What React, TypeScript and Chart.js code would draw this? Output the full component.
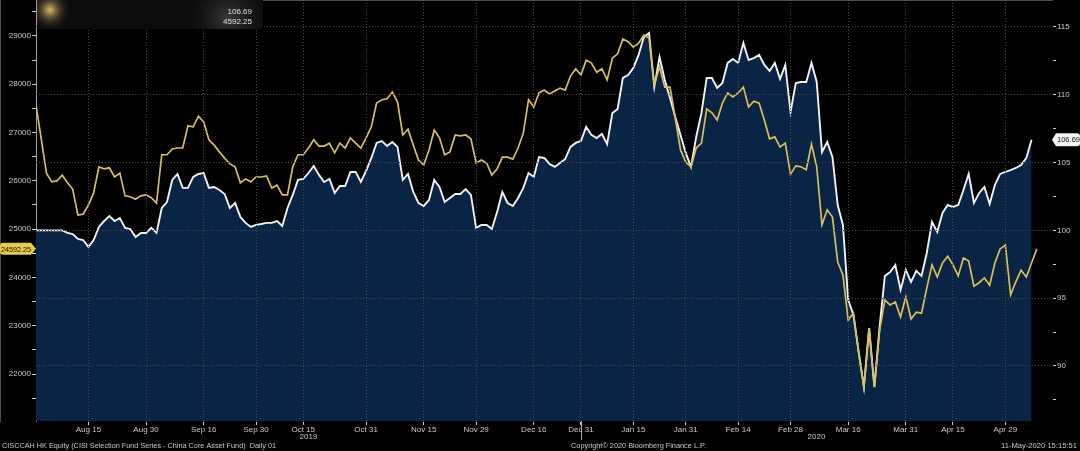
import React, { useEffect, useRef } from 'react';
import { Chart, registerables } from 'chart.js';

Chart.register(...registerables);

// Fund NAV (right axis), one value per trading day from 1 Aug 2019 to 8 May 2020
const fundNav = [
  100.0, 100.0, 100.0, 100.0, 100.0, 100.0,
  99.81, 99.73, 99.37, 99.29, 98.78, 99.29, 100.25, 100.69, 101.06, 100.69,
  100.91, 100.18, 100.1, 99.51, 99.81, 99.81, 100.18, 99.81, 101.65, 102.09,
  103.72, 104.16, 103.13, 103.13, 103.94, 104.16, 104.23, 103.13, 103.2, 102.98,
  102.68, 101.65, 102.02, 100.99, 100.55, 100.25, 100.4, 100.47, 100.55, 100.55,
  100.69, 100.32, 101.65, 102.61, 103.72, 103.79, 104.23, 104.75, 104.09, 103.57,
  103.79, 102.76, 103.27, 103.27, 104.31, 104.31, 103.57, 104.38, 105.34, 106.45,
  106.59, 106.22, 106.52, 106.15, 103.72, 104.16, 102.83, 102.02, 101.8, 102.24,
  103.72, 103.2, 102.09, 102.39, 102.68, 102.68, 103.05, 102.61, 100.18, 100.4,
  100.4, 100.1, 101.36, 102.83, 102.02, 101.8, 102.39, 103.13, 104.23, 103.94,
  105.41, 105.34, 104.9, 104.68, 104.97, 105.27, 106.15, 106.45, 106.59, 107.63,
  107.04, 106.81, 107.11, 106.37, 108.66, 108.95, 111.24, 111.46, 111.98, 112.94,
  114.26, 114.56, 110.58, 112.79, 111.09, 109.76, 108.36, 107.04, 105.71, 104.68,
  106.89, 108.66, 111.24, 111.24, 110.5, 110.87, 112.35, 112.64, 112.35, 113.82,
  112.57, 112.71, 112.94, 112.2, 111.76, 112.35, 111.17, 112.2, 108.73, 110.87,
  110.94, 110.94, 112.35, 110.94, 105.78, 106.52, 105.41, 101.87, 100.4, 94.87,
  93.76, 91.03, 88.45, 92.8, 88.45, 92.88, 96.64, 96.93, 97.45, 95.61,
  97.08, 96.19, 97.01, 96.64, 98.33, 100.62, 99.88, 101.28, 101.87, 101.73,
  101.87, 102.98, 104.16, 102.02, 102.76, 103.2, 101.95, 103.35, 104.16, 104.31,
  104.45, 104.6, 104.82, 105.34, 106.69,
];

// Benchmark index (left axis), same days plus the intraday 11 May value
const indexLevel = [
  27570, 26870, 26160, 25980, 26000, 26120, 25960, 25830, 25290, 25310,
  25500, 25750, 26290, 26250, 26270, 26080, 26160, 25690, 25670, 25620,
  25690, 25710, 25650, 25540, 26540, 26540, 26660, 26680, 26680, 27140,
  27120, 27340, 27220, 26850, 26740, 26600, 26470, 26350, 26290, 25960,
  26040, 25980, 26080, 26080, 26100, 25850, 25910, 25710, 25710, 26290,
  26540, 26540, 26680, 26850, 26720, 26720, 26780, 26580, 26780, 26680,
  26890, 26780, 26680, 26890, 27120, 27610, 27680, 27700, 27840, 27630,
  26950, 27070, 26740, 26430, 26330, 26640, 27050, 26890, 26540, 26600,
  26950, 26930, 26950, 26870, 26370, 26430, 26370, 26120, 26250, 26490,
  26490, 26450, 26680, 26990, 27680, 27530, 27820, 27880, 27800, 27860,
  27920, 27880, 28170, 28320, 28190, 28500, 28440, 28250, 28320, 28090,
  28540, 28630, 28940, 28880, 28770, 28850, 29020, 28960, 27990, 28360,
  27940, 27940, 27300, 26640, 26390, 26290, 26680, 26780, 27490, 27410,
  27260, 27610, 27820, 27740, 27820, 27940, 27530, 27650, 27610, 27260,
  26870, 26910, 26700, 26780, 26140, 26310, 26290, 26230, 26760, 26290,
  25090, 25400, 25250, 24320, 24050, 23120, 23260, 22460, 21730, 22950,
  21730, 22910, 23530, 23430, 23490, 23180, 23600, 23140, 23280, 23260,
  23780, 24260, 24010, 24300, 24440, 24260, 24030, 24400, 24340, 23820,
  23890, 23990, 23840, 24300, 24590, 24670, 23640, 23910, 24150, 24010,
  24300, 24592.25,
];

// Date ticks: trading-day index and label
const tickIndex = [10, 21, 32, 42, 51, 63, 74, 84, 95, 104, 114, 124, 134, 144, 155, 166, 175, 185];
const tickLabels = ['Aug 15', 'Aug 30', 'Sep 16', 'Sep 30', 'Oct 15', 'Oct 31', 'Nov 15', 'Nov 29', 'Dec 16', 'Dec 31', 'Jan 15', 'Jan 31', 'Feb 14', 'Feb 28', 'Mar 16', 'Mar 31', 'Apr 15', 'Apr 29'];
const yearLabels = ['2019', '2020'];
const yearBoundaryIndex = 104;

const leftMajor = [22000, 23000, 24000, 25000, 26000, 27000, 28000, 29000];
const leftMinor = [21500, 22500, 23500, 24500, 25500, 26500, 27500, 28500, 29500];
const rightMajor = [90, 95, 100, 105, 110, 115];
const rightMinor = [87.5, 92.5, 97.5, 102.5, 107.5, 112.5];

const lastFund = '106.69';
const lastIndex = '24592.25';
const legendTexts = ['106.69', '4592.25'];
const footerLeft = 'CISCCAH HK Equity (CISI Selection Fund Series - China Core Asset Fund)  Daily 01';
const footerMid = 'Copyright\u00A9 2020 Bloomberg Finance L.P.';
const footerRight = '11-May-2020 15:15:51';

const FONT = '"Liberation Sans", Arial, sans-serif';
const LABEL = '#c8c8c8';
const WHITE_LINE = '#f2f2f2';
const GOLD_LINE = '#d9bf55';
const NAVY = '#0a2446';

function pill(ctx: CanvasRenderingContext2D, xa: number, xb: number, tip: number, yc: number, h: number, fill: string, text: string, size: number) {
  const top = yc - h / 2;
  const bot = yc + h / 2;
  const r = 3;
  ctx.beginPath();
  if (tip > xb) {
    ctx.moveTo(xa + r, top);
    ctx.lineTo(xb, top);
    ctx.lineTo(tip, yc);
    ctx.lineTo(xb, bot);
    ctx.lineTo(xa + r, bot);
    ctx.quadraticCurveTo(xa, bot, xa, bot - r);
    ctx.lineTo(xa, top + r);
    ctx.quadraticCurveTo(xa, top, xa + r, top);
  } else {
    ctx.moveTo(xa, top);
    ctx.lineTo(xb - r, top);
    ctx.quadraticCurveTo(xb, top, xb, top + r);
    ctx.lineTo(xb, bot - r);
    ctx.quadraticCurveTo(xb, bot, xb - r, bot);
    ctx.lineTo(xa, bot);
    ctx.lineTo(tip, yc);
  }
  ctx.closePath();
  ctx.fillStyle = fill;
  ctx.fill();
  ctx.fillStyle = '#111';
  ctx.font = `${size}px ${FONT}`;
  ctx.textAlign = 'center';
  ctx.textBaseline = 'middle';
  ctx.fillText(text, (xa + xb) / 2 + 0.5, yc + 0.5, Math.abs(xb - xa) - 1);
}

const overlay = {
  id: 'overlay',
  afterDraw(chart: any) {
    const ctx: CanvasRenderingContext2D = chart.ctx;
    const area = chart.chartArea;
    const xs = chart.scales.x;
    const yl = chart.scales.yL;
    const yr = chart.scales.yR;
    ctx.save();

    // legend box at top-left
    ctx.fillStyle = '#0c0c0c';
    ctx.fillRect(area.left + 1, 0, 226, 29);
    let g = ctx.createRadialGradient(area.left + 14, 10, 1, area.left + 14, 10, 20);
    g.addColorStop(0, 'rgba(235,205,110,0.85)');
    g.addColorStop(0.5, 'rgba(150,130,80,0.35)');
    g.addColorStop(1, 'rgba(60,60,60,0)');
    ctx.fillStyle = g;
    ctx.fillRect(area.left + 1, 0, 40, 29);
    g = ctx.createRadialGradient(228, 18, 1, 228, 18, 40);
    g.addColorStop(0, 'rgba(110,110,110,0.45)');
    g.addColorStop(1, 'rgba(40,40,40,0)');
    ctx.fillStyle = g;
    ctx.fillRect(area.left + 1, 0, 226, 29);
    ctx.fillStyle = '#e0e0e0';
    ctx.font = `8px ${FONT}`;
    ctx.textAlign = 'right';
    ctx.textBaseline = 'middle';
    ctx.fillText(legendTexts[0], 252, 12);
    ctx.fillText(legendTexts[1], 252, 22);

    // year separator and year labels
    const sep = xs.getPixelForValue(yearBoundaryIndex);
    ctx.strokeStyle = '#aaaaaa';
    ctx.lineWidth = 1;
    ctx.beginPath();
    ctx.moveTo(Math.round(sep) + 0.5, area.bottom);
    ctx.lineTo(Math.round(sep) + 0.5, area.bottom + 19);
    ctx.stroke();
    ctx.fillStyle = LABEL;
    ctx.textAlign = 'center';
    ctx.fillText(yearLabels[0], (area.left + sep) / 2, area.bottom + 16);
    ctx.fillText(yearLabels[1], (sep + area.right) / 2, area.bottom + 16);

    // footer
    ctx.font = `8px ${FONT}`;
    ctx.textAlign = 'left';
    ctx.fillText(footerLeft, 2, 446, 274);
    ctx.fillText(footerMid, 571, 446, 135);
    ctx.textAlign = 'right';
    ctx.fillText(footerRight, 1077, 446, 76);

    // last-value tags
    const yIdx = yl.getPixelForValue(Number(lastIndex));
    pill(ctx, 0, 31, 36, yIdx, 12, '#e9c84c', lastIndex, 8);
    const yFund = yr.getPixelForValue(Number(lastFund));
    pill(ctx, 1056, 1080, 1052, yFund, 13, '#f4f4f4', lastFund, 7.5);

    ctx.restore();
  },
};

export default function App() {
  const ref = useRef<HTMLCanvasElement>(null);
  useEffect(() => {
    document.body.style.margin = '0';
    document.body.style.background = '#000';
    const fundPts = fundNav.map((v, i) => ({ x: i, y: v }));
    const idxPts = indexLevel.map((v, i) => ({ x: i, y: v }));
    const chart = new Chart(ref.current as HTMLCanvasElement, {
      type: 'line',
      data: {
        datasets: [
          {
            label: 'Index',
            data: idxPts,
            yAxisID: 'yL',
            borderColor: GOLD_LINE,
            borderWidth: 1.7,
            pointRadius: 0,
            tension: 0,
            fill: false,
          },
          {
            label: 'Fund',
            data: fundPts,
            yAxisID: 'yR',
            borderColor: WHITE_LINE,
            borderWidth: 1.9,
            pointRadius: 0,
            tension: 0,
            fill: 'start',
            backgroundColor: NAVY,
          },
        ],
      },
      options: {
        animation: false,
        responsive: false,
        devicePixelRatio: 1,
        layout: { padding: 0, autoPadding: false },
        plugins: { legend: { display: false }, tooltip: { enabled: false } },
        font: { family: FONT },
        scales: {
          x: {
            type: 'linear',
            position: 'bottom',
            min: 0,
            max: 193.9,
            afterBuildTicks: (s: any) => {
              s.ticks = tickIndex.map((v) => ({ value: v }));
            },
            afterFit: (s: any) => {
              s.height = 30;
              s.paddingLeft = 0;
              s.paddingRight = 0;
            },
            ticks: {
              autoSkip: false,
              maxRotation: 0,
              padding: 0,
              color: LABEL,
              font: { size: 8, family: FONT },
              callback: (v: any) => {
                const k = tickIndex.indexOf(Number(v));
                return k >= 0 ? tickLabels[k] : '';
              },
            },
            grid: {
              display: true,
              drawOnChartArea: true,
              color: '#4a4a4a',
              lineWidth: 1,
              drawTicks: true,
              tickLength: 4,
              tickColor: '#cfcfcf',
              z: 1,
            },
            border: { display: true, color: '#9e9e9e', width: 1, dash: [1, 2] },
          },
          yL: {
            type: 'linear',
            position: 'left',
            min: 21027,
            max: 29745,
            afterBuildTicks: (s: any) => {
              s.ticks = [...leftMinor, ...leftMajor].sort((a, b) => a - b).map((v) => ({ value: v }));
            },
            afterFit: (s: any) => {
              s.width = 36;
              s.paddingTop = 0;
              s.paddingBottom = 0;
            },
            ticks: {
              padding: 1,
              color: LABEL,
              font: { size: 8, family: FONT },
              callback: (v: any) => (leftMajor.includes(Number(v)) ? String(v) : ''),
            },
            grid: {
              display: true,
              drawOnChartArea: false,
              drawTicks: true,
              tickLength: 4,
              tickColor: '#d0d0d0',
            },
            border: { display: true, color: '#9e9e9e', width: 1 },
          },
          yR: {
            type: 'linear',
            position: 'right',
            min: 85.94,
            max: 116.99,
            afterBuildTicks: (s: any) => {
              s.ticks = [...rightMinor, ...rightMajor].sort((a, b) => a - b).map((v) => ({ value: v }));
            },
            afterFit: (s: any) => {
              s.width = 28;
              s.paddingTop = 0;
              s.paddingBottom = 0;
            },
            ticks: {
              padding: 1,
              color: LABEL,
              font: { size: 8, family: FONT },
              callback: (v: any) => (rightMajor.includes(Number(v)) ? String(v) : ''),
            },
            grid: {
              display: true,
              drawOnChartArea: true,
              color: (c: any) => (c.tick && rightMajor.includes(c.tick.value) ? '#4a4a4a' : 'rgba(0,0,0,0)'),
              drawTicks: true,
              tickLength: 4,
              tickColor: '#d0d0d0',
              z: 1,
            },
            border: { display: true, color: '#9e9e9e', width: 1, dash: [1, 2] },
          },
        },
      } as any,
      plugins: [overlay],
    });
    return () => chart.destroy();
  }, []);
  return (
    <div style={{ width: 1080, height: 451, background: '#000' }}>
      <canvas ref={ref} width={1080} height={451} style={{ display: 'block' }} />
    </div>
  );
}
